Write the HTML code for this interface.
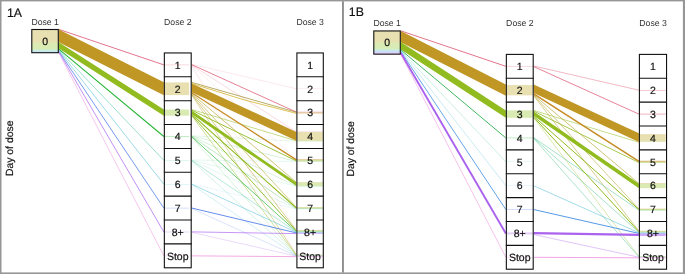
<!DOCTYPE html>
<html lang="en">
<head>
<meta charset="utf-8">
<title>Day of dose - Figure 1A / 1B</title>
<style>
html,body{margin:0;padding:0;background:#fff;}
body{width:685px;height:274px;overflow:hidden;font-family:"Liberation Sans",sans-serif;}
svg{display:block;}
</style>
</head>
<body>
<svg width="685" height="274" viewBox="0 0 685 274" font-family="'Liberation Sans', sans-serif" text-rendering="geometricPrecision">
<defs><linearGradient id="gradA" x1="0" y1="0" x2="0" y2="1"><stop offset="0" stop-color="#e8e0b0"/><stop offset="0.52" stop-color="#e8e0b0"/><stop offset="0.62" stop-color="#dbeab2"/><stop offset="0.82" stop-color="#d9ecb4"/><stop offset="0.89" stop-color="#c9eed8"/><stop offset="0.95" stop-color="#c6e8f4"/><stop offset="1" stop-color="#d6d4f8"/></linearGradient><linearGradient id="gradB" x1="0" y1="0" x2="0" y2="1"><stop offset="0" stop-color="#e8e0b0"/><stop offset="0.44" stop-color="#e8e0b0"/><stop offset="0.54" stop-color="#dbeab2"/><stop offset="0.76" stop-color="#d6edb6"/><stop offset="0.83" stop-color="#c6ecea"/><stop offset="0.89" stop-color="#cadcf8"/><stop offset="0.95" stop-color="#e2cffa"/><stop offset="1" stop-color="#eed2f6"/></linearGradient></defs>
<rect x="0" y="0" width="685" height="274" fill="#969696"/>
<rect x="1.5" y="1.4" width="681.4" height="271" fill="#ffffff"/>
<rect x="342.5" y="1.4" width="0.95" height="271" fill="#1c1c1c"/>
<g id="panel-A">
<g id="flows-A-1" fill="none">
<line x1="58.8" y1="29.37" x2="163.85" y2="64.89" stroke="#d63a5a" stroke-width="0.7"/>
<polygon points="58.8,29.54 163.85,82.35 163.85,95.16 58.8,42.34" fill="#c09624"/>
<polygon points="58.8,42.18 163.85,109.42 163.85,115.83 58.8,48.58" fill="#92bb20"/>
<line x1="58.8" y1="49.12" x2="163.85" y2="136.5" stroke="#2cb63c" stroke-width="1.1"/>
<line x1="58.8" y1="50" x2="163.85" y2="160.37" stroke="#4cc8a0" stroke-width="0.62" stroke-opacity="0.9"/>
<line x1="58.8" y1="50.59" x2="163.85" y2="184.24" stroke="#4cbcd2" stroke-width="0.62" stroke-opacity="0.9"/>
<line x1="58.8" y1="51.28" x2="163.85" y2="208.11" stroke="#4a78ea" stroke-width="0.75"/>
<line x1="58.8" y1="52.07" x2="163.85" y2="231.98" stroke="#ab62ee" stroke-width="0.75" stroke-opacity="0.95"/>
<line x1="58.8" y1="52.78" x2="163.85" y2="255.85" stroke="#ec78d6" stroke-width="0.65" stroke-opacity="0.65"/>
</g>
<g id="flows-A-2" fill="none">
<line x1="191.7" y1="135.8" x2="296.4" y2="141.17" stroke="#2cb63c" stroke-width="0.6" stroke-opacity="0.2"/>
<line x1="191.7" y1="183.96" x2="296.4" y2="209.03" stroke="#4cbcd2" stroke-width="0.6" stroke-opacity="0.2"/>
<line x1="191.7" y1="65.41" x2="296.4" y2="230.03" stroke="#d63a5a" stroke-width="0.6" stroke-opacity="0.12"/>
<line x1="191.7" y1="160" x2="296.4" y2="161.56" stroke="#4cc8a0" stroke-width="0.6" stroke-opacity="0.25"/>
<line x1="191.7" y1="160.14" x2="296.4" y2="186.28" stroke="#4cc8a0" stroke-width="0.6" stroke-opacity="0.25"/>
<line x1="191.7" y1="160.28" x2="296.4" y2="208.91" stroke="#4cc8a0" stroke-width="0.6" stroke-opacity="0.25"/>
<line x1="191.7" y1="160.72" x2="296.4" y2="255.7" stroke="#4cc8a0" stroke-width="0.6" stroke-opacity="0.4"/>
<line x1="191.7" y1="184.5" x2="296.4" y2="255.84" stroke="#4cbcd2" stroke-width="0.6" stroke-opacity="0.4"/>
<line x1="191.7" y1="64.2" x2="296.4" y2="88.75" stroke="#d63a5a" stroke-width="0.6" stroke-opacity="0.2"/>
<line x1="191.7" y1="65.27" x2="296.4" y2="159.18" stroke="#d63a5a" stroke-width="0.6" stroke-opacity="0.14"/>
<line x1="191.7" y1="65.56" x2="296.4" y2="254.77" stroke="#d63a5a" stroke-width="0.6" stroke-opacity="0.14"/>
<line x1="191.7" y1="135.95" x2="296.4" y2="161.4" stroke="#2cb63c" stroke-width="0.6" stroke-opacity="0.3"/>
<line x1="191.7" y1="136.13" x2="296.4" y2="186.12" stroke="#2cb63c" stroke-width="0.6" stroke-opacity="0.3"/>
<line x1="191.7" y1="137.16" x2="296.4" y2="255.54" stroke="#2cb63c" stroke-width="0.6" stroke-opacity="0.3"/>
<line x1="191.7" y1="208.47" x2="296.4" y2="256" stroke="#4a78ea" stroke-width="0.6" stroke-opacity="0.35"/>
<line x1="191.7" y1="65.08" x2="296.4" y2="131.86" stroke="#d63a5a" stroke-width="0.6" stroke-opacity="0.3"/>
<line x1="191.7" y1="232.33" x2="296.4" y2="256.2" stroke="#ab62ee" stroke-width="0.6" stroke-opacity="0.4"/>
<line x1="191.7" y1="94.89" x2="296.4" y2="255" stroke="#b4a22c" stroke-width="0.6" stroke-opacity="0.7"/>
<line x1="191.7" y1="115.85" x2="296.4" y2="255.3" stroke="#92bb20" stroke-width="0.6" stroke-opacity="0.75"/>
<line x1="191.7" y1="136.37" x2="296.4" y2="208.69" stroke="#2cb63c" stroke-width="0.6" stroke-opacity="0.5"/>
<line x1="191.7" y1="160.5" x2="296.4" y2="232" stroke="#4cc8a0" stroke-width="0.6" stroke-opacity="0.7"/>
<line x1="191.7" y1="94.54" x2="296.4" y2="230.3" stroke="#b4a22c" stroke-width="0.65" stroke-opacity="0.8"/>
<line x1="191.7" y1="94.13" x2="296.4" y2="207.33" stroke="#b4a22c" stroke-width="0.65" stroke-opacity="0.85"/>
<line x1="191.7" y1="184.23" x2="296.4" y2="232.36" stroke="#4cbcd2" stroke-width="0.65" stroke-opacity="0.8"/>
<line x1="191.7" y1="109.47" x2="296.4" y2="140.88" stroke="#92bb20" stroke-width="0.65" stroke-opacity="0.8"/>
<line x1="191.7" y1="93.67" x2="296.4" y2="182.38" stroke="#b4a22c" stroke-width="0.7" stroke-opacity="0.9"/>
<line x1="191.7" y1="136.8" x2="296.4" y2="231.58" stroke="#2cb63c" stroke-width="0.75" stroke-opacity="0.95"/>
<line x1="191.7" y1="64.63" x2="296.4" y2="112.12" stroke="#d63a5a" stroke-width="0.68" stroke-opacity="0.95"/>
<line x1="191.7" y1="231.87" x2="296.4" y2="233.64" stroke="#ab62ee" stroke-width="0.9" stroke-opacity="0.75"/>
<line x1="191.7" y1="255.85" x2="296.4" y2="256.66" stroke="#ec78d6" stroke-width="0.9" stroke-opacity="0.7"/>
<line x1="191.7" y1="208.02" x2="296.4" y2="232.93" stroke="#4a78ea" stroke-width="0.85"/>
<line x1="191.7" y1="110.1" x2="296.4" y2="160.91" stroke="#92bb20" stroke-width="0.9"/>
<line x1="191.7" y1="115.3" x2="296.4" y2="230.9" stroke="#92bb20" stroke-width="0.9"/>
<line x1="191.7" y1="82.37" x2="296.4" y2="112.28" stroke="#9c8a2a" stroke-width="0.7"/>
<path d="M191.7 83.47Q244.05 101.37 296.4 113.38" stroke="#d2b022" stroke-width="0.75" stroke-opacity="1"/>
<line x1="191.7" y1="114.4" x2="296.4" y2="208.03" stroke="#92bb20" stroke-width="1.1"/>
<line x1="191.7" y1="92.8" x2="296.4" y2="159.89" stroke="#c68c26" stroke-width="1.3"/>
<polygon points="191.7,110.5 296.4,182.62 296.4,186.02 191.7,113.9" fill="#92bb20"/>
<polygon points="191.7,83.47 296.4,131.96 296.4,140.66 191.7,92.17" fill="#c09624"/>
</g>
<g id="boxes-A">
<rect x="31.8" y="29.5" width="26.5" height="23.2" fill="url(#gradA)" stroke="#111111" stroke-width="1.1"/>
<rect x="164.35" y="52.95" width="26.85" height="214.83" fill="#fff" stroke="none"/>
<rect x="165" y="64.48" width="24.1" height="0.8" fill="#f6cdd5"/>
<rect x="165" y="82.41" width="24.1" height="12.7" fill="#e8e0b0"/>
<rect x="165" y="109.58" width="24.1" height="6.1" fill="#d9eab2"/>
<rect x="165" y="135.94" width="24.1" height="1.1" fill="#c2ecc6"/>
<rect x="165" y="160.06" width="24.1" height="0.6" fill="#c8f0e2"/>
<rect x="165" y="183.94" width="24.1" height="0.6" fill="#c8ecf2"/>
<rect x="165" y="207.71" width="24.1" height="0.8" fill="#c8d6f8"/>
<rect x="165" y="231.58" width="24.1" height="0.8" fill="#e4cffa"/>
<rect x="165" y="255.55" width="24.1" height="0.6" fill="#f9d6f2"/>
<rect x="164.35" y="52.95" width="26.85" height="214.83" fill="none" stroke="#111111" stroke-width="1.1"/>
<path d="M163.85 76.82H191.7M163.85 100.69H191.7M163.85 124.56H191.7M163.85 148.43H191.7M163.85 172.3H191.7M163.85 196.17H191.7M163.85 220.04H191.7M163.85 243.91H191.7" fill="none" stroke="#111111" stroke-width="1.1"/>
<rect x="296.9" y="52.95" width="26.4" height="214.83" fill="#fff" stroke="none"/>
<rect x="297.55" y="88.67" width="25.25" height="0.16" fill="#e893a4"/>
<rect x="297.55" y="111.78" width="25.25" height="0.7" fill="#e893a4"/>
<rect x="297.55" y="112.48" width="25.25" height="1" fill="#dcc587"/>
<rect x="297.55" y="131.76" width="25.25" height="0.2" fill="#e893a4"/>
<rect x="297.55" y="131.96" width="25.25" height="8.7" fill="#e8e0b0"/>
<rect x="297.55" y="140.66" width="25.25" height="0.45" fill="#c3da84"/>
<rect x="297.55" y="141.11" width="25.25" height="0.12" fill="#8bd794"/>
<rect x="297.55" y="159.1" width="25.25" height="0.16" fill="#e893a4"/>
<rect x="297.55" y="159.26" width="25.25" height="1.25" fill="#dcc587"/>
<rect x="297.55" y="160.51" width="25.25" height="0.8" fill="#c3da84"/>
<rect x="297.55" y="161.31" width="25.25" height="0.18" fill="#8bd794"/>
<rect x="297.55" y="161.49" width="25.25" height="0.14" fill="#9de1cb"/>
<rect x="297.55" y="182.12" width="25.25" height="0.5" fill="#dcc587"/>
<rect x="297.55" y="182.62" width="25.25" height="3.4" fill="#d9eab2"/>
<rect x="297.55" y="186.03" width="25.25" height="0.18" fill="#8bd794"/>
<rect x="297.55" y="186.21" width="25.25" height="0.14" fill="#9de1cb"/>
<rect x="297.55" y="207.12" width="25.25" height="0.42" fill="#dcc587"/>
<rect x="297.55" y="207.53" width="25.25" height="1" fill="#c3da84"/>
<rect x="297.55" y="208.53" width="25.25" height="0.3" fill="#8bd794"/>
<rect x="297.55" y="208.84" width="25.25" height="0.14" fill="#9de1cb"/>
<rect x="297.55" y="208.97" width="25.25" height="0.12" fill="#9ddae6"/>
<rect x="297.55" y="229.96" width="25.25" height="0.14" fill="#e893a4"/>
<rect x="297.55" y="230.1" width="25.25" height="0.4" fill="#dcc587"/>
<rect x="297.55" y="230.5" width="25.25" height="0.8" fill="#c3da84"/>
<rect x="297.55" y="231.3" width="25.25" height="0.55" fill="#8bd794"/>
<rect x="297.55" y="231.85" width="25.25" height="0.3" fill="#9de1cb"/>
<rect x="297.55" y="232.15" width="25.25" height="0.42" fill="#9ddae6"/>
<rect x="297.55" y="232.57" width="25.25" height="0.72" fill="#9bb5f3"/>
<rect x="297.55" y="233.29" width="25.25" height="0.7" fill="#d1a9f6"/>
<rect x="297.55" y="254.69" width="25.25" height="0.16" fill="#e893a4"/>
<rect x="297.55" y="254.85" width="25.25" height="0.3" fill="#dcc587"/>
<rect x="297.55" y="255.15" width="25.25" height="0.3" fill="#c3da84"/>
<rect x="297.55" y="255.45" width="25.25" height="0.18" fill="#8bd794"/>
<rect x="297.55" y="255.63" width="25.25" height="0.14" fill="#9de1cb"/>
<rect x="297.55" y="255.77" width="25.25" height="0.14" fill="#9ddae6"/>
<rect x="297.55" y="255.91" width="25.25" height="0.18" fill="#9bb5f3"/>
<rect x="297.55" y="256.09" width="25.25" height="0.22" fill="#d1a9f6"/>
<rect x="297.55" y="256.31" width="25.25" height="0.7" fill="#f5b5e8"/>
<rect x="296.9" y="52.95" width="26.4" height="214.83" fill="none" stroke="#111111" stroke-width="1.1"/>
<path d="M296.4 76.82H323.8M296.4 100.69H323.8M296.4 124.56H323.8M296.4 148.43H323.8M296.4 172.3H323.8M296.4 196.17H323.8M296.4 220.04H323.8M296.4 243.91H323.8" fill="none" stroke="#111111" stroke-width="1.1"/>
</g>
<g id="text-A" fill="#111" stroke="#111" stroke-width="0.18" text-anchor="middle">
<text x="7" y="16.7" font-size="12.3" text-anchor="start">1A</text>
<text x="45.15" y="24.5" font-size="8.7" fill="#303030" stroke="none">Dose 1</text>
<text x="177.87" y="24.5" font-size="8.7" fill="#303030" stroke="none">Dose 2</text>
<text x="310.2" y="24.5" font-size="8.7" fill="#303030" stroke="none">Dose 3</text>
<text x="45.05" y="44.8" font-size="10.5">0</text>
<text x="177.77" y="68.64" font-size="10.5">1</text>
<text x="177.77" y="92.5" font-size="10.5">2</text>
<text x="177.77" y="116.38" font-size="10.5">3</text>
<text x="177.77" y="140.25" font-size="10.5">4</text>
<text x="177.77" y="164.12" font-size="10.5">5</text>
<text x="177.77" y="187.99" font-size="10.5">6</text>
<text x="177.77" y="211.86" font-size="10.5">7</text>
<text x="177.77" y="235.73" font-size="10.5">8+</text>
<text x="177.77" y="259.6" font-size="10.5">Stop</text>
<text x="310.1" y="68.64" font-size="10.5">1</text>
<text x="310.1" y="92.5" font-size="10.5">2</text>
<text x="310.1" y="116.38" font-size="10.5">3</text>
<text x="310.1" y="140.25" font-size="10.5">4</text>
<text x="310.1" y="164.12" font-size="10.5">5</text>
<text x="310.1" y="187.99" font-size="10.5">6</text>
<text x="310.1" y="211.86" font-size="10.5">7</text>
<text x="310.1" y="235.73" font-size="10.5">8+</text>
<text x="310.1" y="259.6" font-size="10.5">Stop</text>
<text transform="translate(12.6 148.3) rotate(-90)" font-size="10.4">Day of dose</text>
</g>
</g>
<g id="panel-B">
<g id="flows-B-1" fill="none">
<line x1="400.8" y1="30.82" x2="505.85" y2="66.34" stroke="#d63a5a" stroke-width="0.7"/>
<polygon points="400.8,31.02 505.85,84.61 505.85,95.8 400.8,42.22" fill="#c09624"/>
<polygon points="400.8,42.11 505.85,110.42 505.85,117.73 400.8,49.41" fill="#92bb20"/>
<line x1="400.8" y1="49.86" x2="505.85" y2="137.94" stroke="#2cae50" stroke-width="0.9"/>
<line x1="400.8" y1="50.55" x2="505.85" y2="161.81" stroke="#4cc8a0" stroke-width="0.6" stroke-opacity="0.5"/>
<line x1="400.8" y1="50.95" x2="505.85" y2="185.69" stroke="#4cbcd2" stroke-width="0.6" stroke-opacity="0.5"/>
<line x1="400.8" y1="51.54" x2="505.85" y2="209.56" stroke="#3f8fe2" stroke-width="0.8"/>
<line x1="400.8" y1="52.92" x2="505.85" y2="233.43" stroke="#ab62ee" stroke-width="1.9"/>
<line x1="400.8" y1="54.23" x2="505.85" y2="257.3" stroke="#ec78d6" stroke-width="0.7" stroke-opacity="0.65"/>
</g>
<g id="flows-B-2" fill="none">
<line x1="533.7" y1="117.8" x2="638.9" y2="256.5" stroke="#92bb20" stroke-width="0.6" stroke-opacity="0.6"/>
<line x1="533.7" y1="138.35" x2="638.9" y2="256.82" stroke="#44c08c" stroke-width="0.62" stroke-opacity="0.7"/>
<line x1="533.7" y1="95.42" x2="638.9" y2="208.91" stroke="#b4a22c" stroke-width="0.65" stroke-opacity="0.8"/>
<line x1="533.7" y1="95.82" x2="638.9" y2="231.03" stroke="#b4a22c" stroke-width="0.65" stroke-opacity="0.8"/>
<line x1="533.7" y1="137.57" x2="638.9" y2="210.21" stroke="#44c08c" stroke-width="0.62" stroke-opacity="0.75"/>
<line x1="533.7" y1="137.97" x2="638.9" y2="232.33" stroke="#44c08c" stroke-width="0.62" stroke-opacity="0.75"/>
<line x1="533.7" y1="234.52" x2="638.9" y2="257.2" stroke="#ab62ee" stroke-width="0.62" stroke-opacity="0.6"/>
<line x1="533.7" y1="185.69" x2="638.9" y2="232.75" stroke="#4cbcd2" stroke-width="0.65" stroke-opacity="0.8"/>
<line x1="533.7" y1="65.99" x2="638.9" y2="90.2" stroke="#d63a5a" stroke-width="0.65" stroke-opacity="0.55"/>
<line x1="533.7" y1="110.45" x2="638.9" y2="142.29" stroke="#92bb20" stroke-width="0.65" stroke-opacity="0.8"/>
<line x1="533.7" y1="94.91" x2="638.9" y2="183.49" stroke="#b4a22c" stroke-width="0.7" stroke-opacity="0.9"/>
<line x1="533.7" y1="66.59" x2="638.9" y2="114.08" stroke="#d63a5a" stroke-width="0.7" stroke-opacity="0.9"/>
<line x1="533.7" y1="111.08" x2="638.9" y2="162.56" stroke="#92bb20" stroke-width="0.8"/>
<line x1="533.7" y1="209.56" x2="638.9" y2="233.4" stroke="#3f8fe2" stroke-width="0.9"/>
<line x1="533.7" y1="257.3" x2="638.9" y2="257.82" stroke="#ec78d6" stroke-width="0.95" stroke-opacity="0.7"/>
<line x1="533.7" y1="116.3" x2="638.9" y2="209.56" stroke="#92bb20" stroke-width="1"/>
<line x1="533.7" y1="117.2" x2="638.9" y2="231.68" stroke="#92bb20" stroke-width="1"/>
<line x1="533.7" y1="93.84" x2="638.9" y2="161.44" stroke="#c68c26" stroke-width="1.5"/>
<line x1="533.7" y1="233.22" x2="638.9" y2="234.93" stroke="#ab62ee" stroke-width="2.2"/>
<polygon points="533.7,111.45 638.9,183.8 638.9,188.19 533.7,115.85" fill="#92bb20"/>
<polygon points="533.7,84.39 638.9,133.34 638.9,142.04 533.7,93.09" fill="#c09624"/>
</g>
<g id="boxes-B">
<rect x="373.8" y="30.95" width="26.5" height="23.2" fill="url(#gradB)" stroke="#111111" stroke-width="1.1"/>
<rect x="506.35" y="54.4" width="26.85" height="214.83" fill="#fff" stroke="none"/>
<rect x="507" y="65.94" width="25.7" height="0.8" fill="#f6cdd5"/>
<rect x="507" y="85.05" width="25.7" height="10.3" fill="#e8e0b0"/>
<rect x="507" y="110.33" width="25.7" height="7.5" fill="#d9eab2"/>
<rect x="507" y="137.44" width="25.7" height="1" fill="#c2ecc6"/>
<rect x="507" y="161.62" width="25.7" height="0.4" fill="#c8f0e2"/>
<rect x="507" y="185.49" width="25.7" height="0.4" fill="#c8ecf2"/>
<rect x="507" y="209.16" width="25.7" height="0.8" fill="#c8d6f8"/>
<rect x="507" y="232.43" width="25.7" height="2" fill="#e4cffa"/>
<rect x="507" y="257" width="25.7" height="0.6" fill="#f9d6f2"/>
<rect x="506.35" y="54.4" width="26.85" height="214.83" fill="none" stroke="#111111" stroke-width="1.1"/>
<path d="M505.85 78.27H533.7M505.85 102.14H533.7M505.85 126.01H533.7M505.85 149.88H533.7M505.85 173.75H533.7M505.85 197.62H533.7M505.85 221.49H533.7M505.85 245.36H533.7" fill="none" stroke="#111111" stroke-width="1.1"/>
<rect x="639.4" y="54.4" width="27.15" height="214.83" fill="#fff" stroke="none"/>
<rect x="640.05" y="89.95" width="25.7" height="0.5" fill="#e893a4"/>
<rect x="640.05" y="113.73" width="25.7" height="0.7" fill="#e893a4"/>
<rect x="640.05" y="134.13" width="25.7" height="7.22" fill="#e8e0b0"/>
<rect x="640.05" y="141.35" width="25.7" height="0.41" fill="#c3da84"/>
<rect x="640.05" y="160.69" width="25.7" height="1.5" fill="#dcc587"/>
<rect x="640.05" y="162.19" width="25.7" height="0.75" fill="#c3da84"/>
<rect x="640.05" y="183.18" width="25.7" height="0.62" fill="#dcc587"/>
<rect x="640.05" y="183.8" width="25.7" height="4.4" fill="#d9eab2"/>
<rect x="640.05" y="208.71" width="25.7" height="0.4" fill="#dcc587"/>
<rect x="640.05" y="209.11" width="25.7" height="0.9" fill="#c3da84"/>
<rect x="640.05" y="210.01" width="25.7" height="0.4" fill="#8bd794"/>
<rect x="640.05" y="230.83" width="25.7" height="0.4" fill="#dcc587"/>
<rect x="640.05" y="231.23" width="25.7" height="0.9" fill="#c3da84"/>
<rect x="640.05" y="232.13" width="25.7" height="0.4" fill="#8bd794"/>
<rect x="640.05" y="232.53" width="25.7" height="0.45" fill="#9ddae6"/>
<rect x="640.05" y="232.98" width="25.7" height="0.85" fill="#9bb5f3"/>
<rect x="640.05" y="233.83" width="25.7" height="2.2" fill="#d1a9f6"/>
<rect x="640.05" y="256.35" width="25.7" height="0.3" fill="#c3da84"/>
<rect x="640.05" y="256.65" width="25.7" height="0.35" fill="#8bd794"/>
<rect x="640.05" y="257" width="25.7" height="0.4" fill="#d1a9f6"/>
<rect x="640.05" y="257.4" width="25.7" height="0.85" fill="#f5b5e8"/>
<rect x="639.4" y="54.4" width="27.15" height="214.83" fill="none" stroke="#111111" stroke-width="1.1"/>
<path d="M638.9 78.27H667.05M638.9 102.14H667.05M638.9 126.01H667.05M638.9 149.88H667.05M638.9 173.75H667.05M638.9 197.62H667.05M638.9 221.49H667.05M638.9 245.36H667.05" fill="none" stroke="#111111" stroke-width="1.1"/>
</g>
<g id="text-B" fill="#111" stroke="#111" stroke-width="0.18" text-anchor="middle">
<text x="348.8" y="16.4" font-size="12.3" text-anchor="start">1B</text>
<text x="387.15" y="25.95" font-size="8.7" fill="#303030" stroke="none">Dose 1</text>
<text x="519.88" y="25.95" font-size="8.7" fill="#303030" stroke="none">Dose 2</text>
<text x="653.08" y="25.95" font-size="8.7" fill="#303030" stroke="none">Dose 3</text>
<text x="387.05" y="46.25" font-size="10.5">0</text>
<text x="519.77" y="70.09" font-size="10.5">1</text>
<text x="519.77" y="93.95" font-size="10.5">2</text>
<text x="519.77" y="117.83" font-size="10.5">3</text>
<text x="519.77" y="141.69" font-size="10.5">4</text>
<text x="519.77" y="165.56" font-size="10.5">5</text>
<text x="519.77" y="189.44" font-size="10.5">6</text>
<text x="519.77" y="213.31" font-size="10.5">7</text>
<text x="519.77" y="237.18" font-size="10.5">8+</text>
<text x="519.77" y="261.05" font-size="10.5">Stop</text>
<text x="652.98" y="70.09" font-size="10.5">1</text>
<text x="652.98" y="93.95" font-size="10.5">2</text>
<text x="652.98" y="117.83" font-size="10.5">3</text>
<text x="652.98" y="141.69" font-size="10.5">4</text>
<text x="652.98" y="165.56" font-size="10.5">5</text>
<text x="652.98" y="189.44" font-size="10.5">6</text>
<text x="652.98" y="213.31" font-size="10.5">7</text>
<text x="652.98" y="237.18" font-size="10.5">8+</text>
<text x="652.98" y="261.05" font-size="10.5">Stop</text>
<text transform="translate(354.4 148.9) rotate(-90)" font-size="10.4">Day of dose</text>
</g>
</g>
</svg>
</body>
</html>
